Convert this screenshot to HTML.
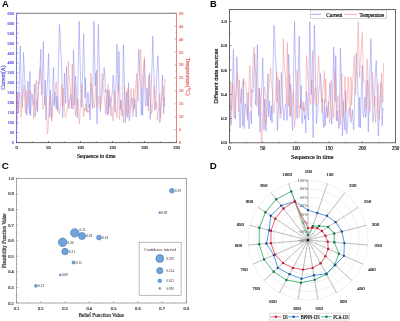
<!DOCTYPE html>
<html><head><meta charset="utf-8"><style>
html,body{margin:0;padding:0;background:#fff;}
svg{display:block;will-change:transform;filter:blur(0.4px);}
text{font-family:"Liberation Serif",serif;}
.lb{font-family:"Liberation Sans",sans-serif;font-weight:bold;}
.sans{font-family:"Liberation Sans",sans-serif;}
.tks{font-family:"Liberation Sans",sans-serif;}
.bt,.sans{stroke-width:0.2px;paint-order:stroke;}
.tk,.tks{stroke-width:0.2px;paint-order:stroke;}
</style></head><body>
<svg width="400" height="321" viewBox="0 0 400 321">
<rect width="400" height="321" fill="#fff"/>
<text x="1.9" y="7" font-size="9.3" fill="#000" class="lb">A</text>
<polyline points="16.5,91.84 17.14,92.29 17.78,112.4 18.42,112.78 19.06,89.55 19.7,63.3 20.34,45.96 20.98,78.02 21.62,100.45 22.26,107.64 22.9,79.47 23.54,52.41 24.18,67.01 24.82,79.19 25.46,92.5 26.1,104.09 26.74,115.48 27.38,98.27 28.02,81.07 28.66,98.63 29.3,113.57 29.94,71.51 30.58,116.04 31.22,101.25 31.86,94.16 32.5,97.68 33.14,101.95 33.78,105.47 34.42,84.15 35.06,116.35 35.7,114.84 36.34,101.17 36.98,100.4 37.62,112.16 38.26,81.87 38.9,83.68 39.54,79.09 40.18,65.28 40.82,49.19 41.46,94.83 42.1,90.84 42.74,65.94 43.38,41.67 44.02,88.88 44.66,105.06 45.3,80.04 45.94,119.52 46.58,97.69 47.22,85.23 47.86,73.49 48.5,53.48 49.14,79.07 49.78,117.34 50.42,89.92 51.06,109.18 51.7,118.57 52.34,104.21 52.98,80.36 53.62,67.45 54.26,105.78 54.9,91.83 55.54,98.84 56.18,108.84 56.82,95.78 57.46,110.88 58.1,81.22 58.74,53.56 59.38,24.48 60.02,31.56 60.66,50.86 61.3,58.3 61.94,74.25 62.58,117.87 63.22,107.08 63.86,92.15 64.5,73.3 65.14,94.03 65.78,103.32 66.42,66.37 67.06,80.85 67.7,92.24 68.34,101.81 68.98,108.78 69.62,99.26 70.26,95.9 70.9,94.18 71.54,108.17 72.18,108.77 72.82,82.32 73.46,50.26 74.1,68.1 74.74,105.28 75.38,76.24 76.02,85.03 76.66,107 77.3,117.68 77.94,84.33 78.58,47.97 79.22,21.26 79.86,50.55 80.5,75.83 81.14,101.67 81.78,107.36 82.42,81.68 83.06,51.71 83.7,34.15 84.34,68.73 84.98,97.85 85.62,77.8 86.26,111.56 86.9,111.04 87.54,93.03 88.18,92.51 88.82,107.73 89.46,104.19 90.1,119.98 90.74,82.85 91.38,87.6 92.02,103.17 92.66,108.71 93.3,62.67 93.94,21.26 94.58,50.91 95.22,85.85 95.86,72.83 96.5,95.88 97.14,124.12 97.78,51.67 98.42,24.48 99.06,55.73 99.7,79.25 100.34,111.56 100.98,102.87 101.62,100.96 102.26,88.49 102.9,79.51 103.54,79.29 104.18,67.45 104.82,74.65 105.46,92.2 106.1,89.58 106.74,111 107.38,115.15 108.02,90.48 108.66,114.04 109.3,104.34 109.94,96.3 110.58,106.56 111.22,101.56 111.86,95.79 112.5,89.59 113.14,75.28 113.78,83.77 114.42,99.26 115.06,112.22 115.7,91.54 116.34,70.14 116.98,43.81 117.62,71.82 118.26,92.15 118.9,51.33 119.54,78.46 120.18,109.36 120.82,100.05 121.46,109.87 122.1,116.12 122.74,90.76 123.38,44.89 124.02,66.14 124.66,91.56 125.3,122.71 125.94,110.63 126.58,91.64 127.22,110.44 127.86,117.59 128.5,82.92 129.14,120.68 129.78,119.65 130.42,110.51 131.06,99.89 131.7,97.83 132.34,98.33 132.98,104.92 133.62,110.53 134.26,106.42 134.9,99.25 135.54,107.79 136.18,117.16 136.82,101.36 137.46,76.6 138.1,70.68 138.74,49.19 139.38,61.03 140.02,76.1 140.66,91.63 141.3,114.79 141.94,88.27 142.58,115.47 143.22,94.94 143.86,71.27 144.5,59.93 145.14,100.7 145.78,105.95 146.42,99.97 147.06,88.1 147.7,106.27 148.34,102.63 148.98,79.95 149.62,72.89 150.26,119.31 150.9,98.2 151.54,78.4 152.18,60.02 152.82,36.3 153.46,63.25 154.1,76.28 154.74,110.19 155.38,105.18 156.02,98.5 156.66,77.31 157.3,64.02 157.94,55.63 158.58,73.56 159.22,98.43 159.86,122.6 160.5,112.8 161.14,102.79 161.78,93.22 162.42,74.97 163.06,91.5 163.7,113.58 164.34,97.91 164.98,99.47" fill="none" stroke="#8080f0" stroke-width="0.48" stroke-linejoin="round"/>
<polyline points="16.5,125.94 17.14,125.94 17.78,92.17 18.42,112.35 19.06,99.6 19.7,92.99 20.34,105.44 20.98,117.35 21.62,110.37 22.26,106.33 22.9,97.96 23.54,91.18 24.18,85.35 24.82,103.34 25.46,113.27 26.1,90.52 26.74,100.95 27.38,106.82 28.02,102.65 28.66,98.01 29.3,91.89 29.94,90.47 30.58,92.44 31.22,92.1 31.86,94.59 32.5,96.04 33.14,105.63 33.78,119.16 34.42,109.09 35.06,99.92 35.7,85.44 36.34,80.23 36.98,109.64 37.62,96.67 38.26,95.21 38.9,83.7 39.54,71.33 40.18,67.42 40.82,77.44 41.46,83.9 42.1,86.33 42.74,109.35 43.38,107.93 44.02,105.56 44.66,97.11 45.3,98.15 45.94,100.94 46.58,108.95 47.22,133.99 47.86,132.28 48.5,118.85 49.14,104.71 49.78,97.28 50.42,95.51 51.06,103.69 51.7,121.15 52.34,115.25 52.98,104.07 53.62,99.65 54.26,97.03 54.9,92.7 55.54,86.8 56.18,81.93 56.82,91.5 57.46,96.69 58.1,99.01 58.74,112.66 59.38,114.19 60.02,107.37 60.66,104.27 61.3,93.64 61.94,84.49 62.58,106.36 63.22,88.3 63.86,92.85 64.5,104.4 65.14,116.87 65.78,117.67 66.42,112.77 67.06,111.82 67.7,103.85 68.34,61.45 68.98,75.55 69.62,82.06 70.26,86.54 70.9,96.17 71.54,108.12 72.18,64.01 72.82,82.39 73.46,109.34 74.1,95.89 74.74,86.53 75.38,116.11 76.02,109.82 76.66,108.16 77.3,107.41 77.94,98.68 78.58,109.91 79.22,123.9 79.86,118.14 80.5,100.2 81.14,98.26 81.78,83.8 82.42,95.28 83.06,107.45 83.7,116.81 84.34,108.28 84.98,110.87 85.62,104.33 86.26,105.39 86.9,109.69 87.54,112.35 88.18,109.69 88.82,112.62 89.46,109.4 90.1,104.67 90.74,73.4 91.38,78.39 92.02,88.7 92.66,93.47 93.3,101.54 93.94,104.59 94.58,107.79 95.22,97.74 95.86,87.55 96.5,69.99 97.14,106.73 97.78,107.78 98.42,102.74 99.06,95.9 99.7,98.23 100.34,109.16 100.98,97.94 101.62,85.37 102.26,73.4 102.9,82.62 103.54,89.59 104.18,95.87 104.82,100.98 105.46,114.05 106.1,103.26 106.74,97.16 107.38,90.49 108.02,84.49 108.66,106.97 109.3,89.63 109.94,102.26 110.58,111.71 111.22,116.15 111.86,106.01 112.5,116.87 113.14,120.82 113.78,102.28 114.42,90.72 115.06,95.68 115.7,106.36 116.34,113.47 116.98,117.53 117.62,101.14 118.26,83.91 118.9,102.09 119.54,119.15 120.18,108.52 120.82,102.51 121.46,101.45 122.1,111.02 122.74,110.58 123.38,122.3 124.02,105.59 124.66,85.94 125.3,102.63 125.94,116.9 126.58,107.32 127.22,100.86 127.86,88.26 128.5,113.34 129.14,109.59 129.78,105.2 130.42,95.86 131.06,88.66 131.7,102.97 132.34,109.51 132.98,116.93 133.62,88.5 134.26,108.3 134.9,97.01 135.54,89.24 136.18,79.91 136.82,73.4 137.46,88.49 138.1,101.32 138.74,83.4 139.38,79 140.02,60.16 140.66,49.5 141.3,73.88 141.94,88.91 142.58,76.96 143.22,71.74 143.86,62.72 144.5,57.18 145.14,78.21 145.78,91.85 146.42,91.4 147.06,91.03 147.7,97.88 148.34,110.97 148.98,75.96 149.62,81.34 150.26,92.88 150.9,102.18 151.54,113.56 152.18,111.26 152.82,103.12 153.46,93.69 154.1,85.17 154.74,89.74 155.38,100.59 156.02,109.2 156.66,101.82 157.3,120.56 157.94,113.82 158.58,111.95 159.22,96.97 159.86,93.17 160.5,118.08 161.14,109.63 161.78,100.27 162.42,98.25 163.06,85.71 163.7,98.65 164.34,106.51 164.98,78.52" fill="none" stroke="#ee8c8c" stroke-width="0.48" stroke-linejoin="round"/>
<line x1="16.5" y1="13.3" x2="176.5" y2="13.3" stroke="#555" stroke-width="0.8"/>
<line x1="16.5" y1="142.6" x2="176.5" y2="142.6" stroke="#333" stroke-width="0.8"/>
<line x1="16.5" y1="13.3" x2="16.5" y2="142.6" stroke="#5858d8" stroke-width="0.8"/>
<line x1="176.5" y1="13.3" x2="176.5" y2="142.6" stroke="#e46464" stroke-width="0.8"/>
<line x1="16.5" y1="142.6" x2="18.5" y2="142.6" stroke="#5858d8" stroke-width="0.6"/>
<text x="13.9" y="144.05" font-size="4.2" fill="#6262dc" stroke="#6262dc" text-anchor="end" class="tk">0</text>
<line x1="16.5" y1="137.63" x2="17.5" y2="137.63" stroke="#5858d8" stroke-width="0.6"/>
<line x1="16.5" y1="132.65" x2="18.5" y2="132.65" stroke="#5858d8" stroke-width="0.6"/>
<text x="13.9" y="134.1" font-size="4.2" fill="#6262dc" stroke="#6262dc" text-anchor="end" class="tk">50</text>
<line x1="16.5" y1="127.68" x2="17.5" y2="127.68" stroke="#5858d8" stroke-width="0.6"/>
<line x1="16.5" y1="122.71" x2="18.5" y2="122.71" stroke="#5858d8" stroke-width="0.6"/>
<text x="13.9" y="124.16" font-size="4.2" fill="#6262dc" stroke="#6262dc" text-anchor="end" class="tk">100</text>
<line x1="16.5" y1="117.73" x2="17.5" y2="117.73" stroke="#5858d8" stroke-width="0.6"/>
<line x1="16.5" y1="112.76" x2="18.5" y2="112.76" stroke="#5858d8" stroke-width="0.6"/>
<text x="13.9" y="114.21" font-size="4.2" fill="#6262dc" stroke="#6262dc" text-anchor="end" class="tk">150</text>
<line x1="16.5" y1="107.79" x2="17.5" y2="107.79" stroke="#5858d8" stroke-width="0.6"/>
<line x1="16.5" y1="102.82" x2="18.5" y2="102.82" stroke="#5858d8" stroke-width="0.6"/>
<text x="13.9" y="104.27" font-size="4.2" fill="#6262dc" stroke="#6262dc" text-anchor="end" class="tk">200</text>
<line x1="16.5" y1="97.84" x2="17.5" y2="97.84" stroke="#5858d8" stroke-width="0.6"/>
<line x1="16.5" y1="92.87" x2="18.5" y2="92.87" stroke="#5858d8" stroke-width="0.6"/>
<text x="13.9" y="94.32" font-size="4.2" fill="#6262dc" stroke="#6262dc" text-anchor="end" class="tk">250</text>
<line x1="16.5" y1="87.9" x2="17.5" y2="87.9" stroke="#5858d8" stroke-width="0.6"/>
<line x1="16.5" y1="82.92" x2="18.5" y2="82.92" stroke="#5858d8" stroke-width="0.6"/>
<text x="13.9" y="84.37" font-size="4.2" fill="#6262dc" stroke="#6262dc" text-anchor="end" class="tk">300</text>
<line x1="16.5" y1="77.95" x2="17.5" y2="77.95" stroke="#5858d8" stroke-width="0.6"/>
<line x1="16.5" y1="72.98" x2="18.5" y2="72.98" stroke="#5858d8" stroke-width="0.6"/>
<text x="13.9" y="74.43" font-size="4.2" fill="#6262dc" stroke="#6262dc" text-anchor="end" class="tk">350</text>
<line x1="16.5" y1="68" x2="17.5" y2="68" stroke="#5858d8" stroke-width="0.6"/>
<line x1="16.5" y1="63.03" x2="18.5" y2="63.03" stroke="#5858d8" stroke-width="0.6"/>
<text x="13.9" y="64.48" font-size="4.2" fill="#6262dc" stroke="#6262dc" text-anchor="end" class="tk">400</text>
<line x1="16.5" y1="58.06" x2="17.5" y2="58.06" stroke="#5858d8" stroke-width="0.6"/>
<line x1="16.5" y1="53.08" x2="18.5" y2="53.08" stroke="#5858d8" stroke-width="0.6"/>
<text x="13.9" y="54.53" font-size="4.2" fill="#6262dc" stroke="#6262dc" text-anchor="end" class="tk">450</text>
<line x1="16.5" y1="48.11" x2="17.5" y2="48.11" stroke="#5858d8" stroke-width="0.6"/>
<line x1="16.5" y1="43.14" x2="18.5" y2="43.14" stroke="#5858d8" stroke-width="0.6"/>
<text x="13.9" y="44.59" font-size="4.2" fill="#6262dc" stroke="#6262dc" text-anchor="end" class="tk">500</text>
<line x1="16.5" y1="38.17" x2="17.5" y2="38.17" stroke="#5858d8" stroke-width="0.6"/>
<line x1="16.5" y1="33.19" x2="18.5" y2="33.19" stroke="#5858d8" stroke-width="0.6"/>
<text x="13.9" y="34.64" font-size="4.2" fill="#6262dc" stroke="#6262dc" text-anchor="end" class="tk">550</text>
<line x1="16.5" y1="28.22" x2="17.5" y2="28.22" stroke="#5858d8" stroke-width="0.6"/>
<line x1="16.5" y1="23.25" x2="18.5" y2="23.25" stroke="#5858d8" stroke-width="0.6"/>
<text x="13.9" y="24.7" font-size="4.2" fill="#6262dc" stroke="#6262dc" text-anchor="end" class="tk">600</text>
<line x1="16.5" y1="18.27" x2="17.5" y2="18.27" stroke="#5858d8" stroke-width="0.6"/>
<line x1="16.5" y1="13.3" x2="18.5" y2="13.3" stroke="#5858d8" stroke-width="0.6"/>
<text x="13.9" y="14.75" font-size="4.2" fill="#6262dc" stroke="#6262dc" text-anchor="end" class="tk">650</text>
<line x1="176.5" y1="142.6" x2="174.5" y2="142.6" stroke="#e46464" stroke-width="0.6"/>
<line x1="176.5" y1="136.13" x2="175.5" y2="136.13" stroke="#e46464" stroke-width="0.6"/>
<text x="179.1" y="144.05" font-size="4.2" fill="#e87474" stroke="#e87474" class="tk">0</text>
<line x1="176.5" y1="129.67" x2="174.5" y2="129.67" stroke="#e46464" stroke-width="0.6"/>
<line x1="176.5" y1="123.2" x2="175.5" y2="123.2" stroke="#e46464" stroke-width="0.6"/>
<text x="179.1" y="131.12" font-size="4.2" fill="#e87474" stroke="#e87474" class="tk">5</text>
<line x1="176.5" y1="116.74" x2="174.5" y2="116.74" stroke="#e46464" stroke-width="0.6"/>
<line x1="176.5" y1="110.28" x2="175.5" y2="110.28" stroke="#e46464" stroke-width="0.6"/>
<text x="179.1" y="118.19" font-size="4.2" fill="#e87474" stroke="#e87474" class="tk">10</text>
<line x1="176.5" y1="103.81" x2="174.5" y2="103.81" stroke="#e46464" stroke-width="0.6"/>
<line x1="176.5" y1="97.34" x2="175.5" y2="97.34" stroke="#e46464" stroke-width="0.6"/>
<text x="179.1" y="105.26" font-size="4.2" fill="#e87474" stroke="#e87474" class="tk">15</text>
<line x1="176.5" y1="90.88" x2="174.5" y2="90.88" stroke="#e46464" stroke-width="0.6"/>
<line x1="176.5" y1="84.42" x2="175.5" y2="84.42" stroke="#e46464" stroke-width="0.6"/>
<text x="179.1" y="92.33" font-size="4.2" fill="#e87474" stroke="#e87474" class="tk">20</text>
<line x1="176.5" y1="77.95" x2="174.5" y2="77.95" stroke="#e46464" stroke-width="0.6"/>
<line x1="176.5" y1="71.48" x2="175.5" y2="71.48" stroke="#e46464" stroke-width="0.6"/>
<text x="179.1" y="79.4" font-size="4.2" fill="#e87474" stroke="#e87474" class="tk">25</text>
<line x1="176.5" y1="65.02" x2="174.5" y2="65.02" stroke="#e46464" stroke-width="0.6"/>
<line x1="176.5" y1="58.56" x2="175.5" y2="58.56" stroke="#e46464" stroke-width="0.6"/>
<text x="179.1" y="66.47" font-size="4.2" fill="#e87474" stroke="#e87474" class="tk">30</text>
<line x1="176.5" y1="52.09" x2="174.5" y2="52.09" stroke="#e46464" stroke-width="0.6"/>
<line x1="176.5" y1="45.63" x2="175.5" y2="45.63" stroke="#e46464" stroke-width="0.6"/>
<text x="179.1" y="53.54" font-size="4.2" fill="#e87474" stroke="#e87474" class="tk">35</text>
<line x1="176.5" y1="39.16" x2="174.5" y2="39.16" stroke="#e46464" stroke-width="0.6"/>
<line x1="176.5" y1="32.7" x2="175.5" y2="32.7" stroke="#e46464" stroke-width="0.6"/>
<text x="179.1" y="40.61" font-size="4.2" fill="#e87474" stroke="#e87474" class="tk">40</text>
<line x1="176.5" y1="26.23" x2="174.5" y2="26.23" stroke="#e46464" stroke-width="0.6"/>
<line x1="176.5" y1="19.77" x2="175.5" y2="19.77" stroke="#e46464" stroke-width="0.6"/>
<text x="179.1" y="27.68" font-size="4.2" fill="#e87474" stroke="#e87474" class="tk">45</text>
<line x1="176.5" y1="13.3" x2="174.5" y2="13.3" stroke="#e46464" stroke-width="0.6"/>
<text x="179.1" y="14.75" font-size="4.2" fill="#e87474" stroke="#e87474" class="tk">50</text>
<line x1="16.5" y1="142.6" x2="16.5" y2="141" stroke="#333" stroke-width="0.6"/>
<text x="16.5" y="148.7" font-size="4.4" fill="#333" stroke="#333" text-anchor="middle" class="tk">0</text>
<line x1="32.5" y1="142.6" x2="32.5" y2="141.6" stroke="#333" stroke-width="0.6"/>
<line x1="48.5" y1="142.6" x2="48.5" y2="141" stroke="#333" stroke-width="0.6"/>
<text x="48.5" y="148.7" font-size="4.4" fill="#333" stroke="#333" text-anchor="middle" class="tk">50</text>
<line x1="64.5" y1="142.6" x2="64.5" y2="141.6" stroke="#333" stroke-width="0.6"/>
<line x1="80.5" y1="142.6" x2="80.5" y2="141" stroke="#333" stroke-width="0.6"/>
<text x="80.5" y="148.7" font-size="4.4" fill="#333" stroke="#333" text-anchor="middle" class="tk">100</text>
<line x1="96.5" y1="142.6" x2="96.5" y2="141.6" stroke="#333" stroke-width="0.6"/>
<line x1="112.5" y1="142.6" x2="112.5" y2="141" stroke="#333" stroke-width="0.6"/>
<text x="112.5" y="148.7" font-size="4.4" fill="#333" stroke="#333" text-anchor="middle" class="tk">150</text>
<line x1="128.5" y1="142.6" x2="128.5" y2="141.6" stroke="#333" stroke-width="0.6"/>
<line x1="144.5" y1="142.6" x2="144.5" y2="141" stroke="#333" stroke-width="0.6"/>
<text x="144.5" y="148.7" font-size="4.4" fill="#333" stroke="#333" text-anchor="middle" class="tk">200</text>
<line x1="160.5" y1="142.6" x2="160.5" y2="141.6" stroke="#333" stroke-width="0.6"/>
<line x1="176.5" y1="142.6" x2="176.5" y2="141" stroke="#333" stroke-width="0.6"/>
<text x="176.5" y="148.7" font-size="4.4" fill="#333" stroke="#333" text-anchor="middle" class="tk">250</text>
<text x="77" y="158.2" font-size="6.0" fill="#111" stroke="#111" textLength="38.5" lengthAdjust="spacingAndGlyphs" class="bt">Sequence in time</text>
<text transform="translate(4.9,77.6) rotate(-90)" font-size="5.5" fill="#5858d8" stroke="#5858d8" text-anchor="middle" textLength="24.4" lengthAdjust="spacingAndGlyphs" class="bt">Current(A)</text>
<text transform="translate(186.1,76.6) rotate(90)" font-size="5.6" fill="#e46464" stroke="#e46464" text-anchor="middle" textLength="37.8" lengthAdjust="spacingAndGlyphs" class="bt">Temperature(°C)</text>
<text x="210.1" y="7" font-size="9.3" fill="#000" class="lb">B</text>
<polyline points="229.5,101.25 230.16,101.75 230.83,124.44 231.49,124.87 232.16,98.66 232.82,69.05 233.48,49.49 234.15,85.66 234.81,110.96 235.48,119.07 236.14,87.29 236.8,56.76 237.47,73.24 238.13,86.97 238.8,101.99 239.46,115.07 240.12,127.91 240.79,108.5 241.45,89.1 242.12,108.9 242.78,125.75 243.44,78.31 244.11,128.55 244.77,111.86 245.44,103.87 246.1,107.83 246.76,112.65 247.43,116.62 248.09,92.57 248.76,128.9 249.42,127.19 250.08,111.78 250.75,110.9 251.41,124.16 252.08,89.99 252.74,92.03 253.4,86.87 254.07,71.28 254.73,53.13 255.4,104.62 256.06,100.11 256.72,72.03 257.39,44.64 258.05,97.9 258.72,116.16 259.38,87.93 260.04,132.48 260.71,107.85 261.37,93.79 262.04,80.55 262.7,57.97 263.36,86.84 264.03,130.01 264.69,99.08 265.36,120.8 266.02,131.4 266.68,115.19 267.35,88.3 268.01,73.73 268.68,116.97 269.34,101.23 270,109.15 270.67,120.42 271.33,105.69 272,122.73 272.66,89.27 273.32,58.06 273.99,25.25 274.65,33.24 275.32,55.02 275.98,63.4 276.64,81.4 277.31,130.61 277.97,118.44 278.64,101.59 279.3,80.33 279.96,103.71 280.63,114.19 281.29,72.51 281.96,88.85 282.62,101.7 283.28,112.49 283.95,120.35 284.61,109.62 285.28,105.83 285.94,103.89 286.6,119.66 287.27,120.34 287.93,90.51 288.6,54.34 289.26,74.46 289.92,116.41 290.59,83.64 291.25,93.56 291.92,118.35 292.58,130.4 293.24,92.78 293.91,51.75 294.57,21.62 295.24,54.66 295.9,83.18 296.56,112.34 297.23,118.76 297.89,89.78 298.56,55.97 299.22,36.16 299.88,75.17 300.55,108.02 301.21,85.4 301.88,123.49 302.54,122.9 303.2,102.59 303.87,102 304.53,119.17 305.2,115.17 305.86,132.99 306.52,91.1 307.19,96.46 307.85,114.02 308.52,120.28 309.18,68.34 309.84,21.62 310.51,55.07 311.17,94.49 311.84,79.8 312.5,105.8 313.16,137.67 313.83,55.93 314.49,25.25 315.16,60.51 315.82,87.05 316.48,123.49 317.15,113.69 317.81,111.53 318.48,97.46 319.14,87.33 319.8,87.08 320.47,73.73 321.13,81.85 321.8,101.65 322.46,98.69 323.12,122.86 323.79,127.54 324.45,99.71 325.12,126.29 325.78,115.35 326.44,106.28 327.11,117.85 327.77,112.21 328.44,105.7 329.1,98.71 329.76,82.57 330.43,92.14 331.09,109.62 331.76,124.24 332.42,100.9 333.08,76.76 333.75,47.07 334.41,78.66 335.08,101.59 335.74,55.55 336.4,86.15 337.07,121.02 337.73,110.51 338.4,121.59 339.06,128.63 339.72,100.03 340.39,48.28 341.05,72.26 341.72,100.92 342.38,136.07 343.04,122.44 343.71,101.02 344.37,122.23 345.04,130.29 345.7,91.18 346.36,133.78 347.03,132.61 347.69,122.31 348.36,110.32 349.02,108.01 349.68,108.56 350.35,116 351.01,122.33 351.68,117.69 352.34,109.6 353,119.24 353.67,129.81 354.33,111.99 355,84.05 355.66,77.37 356.32,53.13 356.99,66.48 357.65,83.49 358.32,101.01 358.98,127.13 359.64,97.22 360.31,127.9 360.97,104.75 361.64,78.04 362.3,65.24 362.96,111.24 363.63,117.16 364.29,110.42 364.96,97.02 365.62,117.53 366.28,113.41 366.95,87.83 367.61,79.86 368.28,132.23 368.94,108.42 369.6,86.08 370.27,65.34 370.93,38.58 371.6,68.99 372.26,83.69 372.92,121.95 373.59,116.3 374.25,108.76 374.92,84.85 375.58,69.86 376.24,60.4 376.91,80.62 377.57,108.67 378.24,135.95 378.9,124.89 379.56,113.6 380.23,102.81 380.89,82.21 381.56,100.86 382.22,125.77 382.88,108.1 383.55,109.85" fill="none" stroke="#8080f0" stroke-width="0.48" stroke-linejoin="round"/>
<polyline points="229.5,130.16 230.16,130.16 230.83,82.21 231.49,110.86 232.16,92.76 232.82,83.36 233.48,101.05 234.15,117.97 234.81,108.05 235.48,102.32 236.14,90.43 236.8,80.8 237.47,72.51 238.13,98.07 238.8,112.17 239.46,79.86 240.12,94.67 240.79,103 241.45,97.09 242.12,90.5 242.78,81.81 243.44,79.79 244.11,82.59 244.77,82.11 245.44,85.64 246.1,87.7 246.76,101.32 247.43,120.53 248.09,106.23 248.76,93.21 249.42,72.65 250.08,65.24 250.75,107.01 251.41,88.59 252.08,86.53 252.74,70.18 253.4,52.61 254.07,47.07 254.73,61.29 255.4,70.46 256.06,73.91 256.72,106.6 257.39,104.58 258.05,101.22 258.72,89.22 259.38,90.7 260.04,94.66 260.71,106.04 261.37,141.59 262.04,139.16 262.7,120.09 263.36,100.01 264.03,89.46 264.69,86.94 265.36,98.57 266.02,123.36 266.68,114.98 267.35,99.11 268.01,92.83 268.68,89.1 269.34,82.95 270,74.59 270.67,67.67 271.33,81.25 272,88.63 272.66,91.92 273.32,111.3 273.99,113.47 274.65,103.79 275.32,99.39 275.98,84.29 276.64,71.3 277.31,102.35 277.97,76.7 278.64,83.18 279.3,99.57 279.96,117.29 280.63,118.41 281.29,111.45 281.96,110.11 282.62,98.8 283.28,38.58 283.95,58.61 284.61,67.85 285.28,74.2 285.94,87.88 286.6,104.85 287.27,42.22 287.93,68.31 288.6,106.59 289.26,87.48 289.92,74.2 290.59,116.2 291.25,107.27 291.92,104.91 292.58,103.85 293.24,91.44 293.91,107.4 294.57,127.26 295.24,119.08 295.9,93.61 296.56,90.85 297.23,70.32 297.89,86.62 298.56,103.91 299.22,117.2 299.88,105.08 300.55,108.75 301.21,99.47 301.88,100.98 302.54,107.08 303.2,110.86 303.87,107.09 304.53,111.25 305.2,106.67 305.86,99.95 306.52,55.55 307.19,62.64 307.85,77.28 308.52,84.05 309.18,95.52 309.84,99.83 310.51,104.39 311.17,90.12 311.84,75.64 312.5,50.7 313.16,102.87 313.83,104.37 314.49,97.21 315.16,87.51 315.82,90.81 316.48,106.34 317.15,90.39 317.81,72.55 318.48,55.55 319.14,68.65 319.8,78.54 320.47,87.46 321.13,94.72 321.8,113.28 322.46,97.95 323.12,89.29 323.79,79.82 324.45,71.3 325.12,103.22 325.78,78.6 326.44,96.54 327.11,109.95 327.77,116.25 328.44,101.86 329.1,117.27 329.76,122.89 330.43,96.56 331.09,80.15 331.76,87.19 332.42,102.36 333.08,112.45 333.75,118.22 334.41,94.94 335.08,70.48 335.74,96.29 336.4,120.52 337.07,105.43 337.73,96.89 338.4,95.39 339.06,108.97 339.72,108.35 340.39,124.99 341.05,101.25 341.72,73.35 342.38,97.06 343.04,117.32 343.71,103.72 344.37,94.55 345.04,76.65 345.7,112.27 346.36,106.94 347.03,100.71 347.69,87.44 348.36,77.21 349.02,97.54 349.68,106.82 350.35,117.36 351.01,76.99 351.68,105.11 352.34,89.08 353,78.04 353.67,64.8 354.33,55.55 355,76.98 355.66,95.2 356.32,69.76 356.99,63.51 357.65,36.75 358.32,21.62 358.98,56.23 359.64,77.57 360.31,60.61 360.97,53.2 361.64,40.39 362.3,32.52 362.96,62.38 363.63,81.75 364.29,81.1 364.96,80.58 365.62,90.31 366.28,108.9 366.95,59.18 367.61,66.82 368.28,83.22 368.94,96.42 369.6,112.57 370.27,109.31 370.93,97.75 371.6,84.37 372.26,72.26 372.92,78.75 373.59,94.16 374.25,106.38 374.92,95.9 375.58,122.52 376.24,112.95 376.91,110.29 377.57,89.02 378.24,83.62 378.9,119 379.56,107 380.23,93.7 380.89,90.84 381.56,73.04 382.22,91.41 382.88,102.57 383.55,62.82" fill="none" stroke="#ee8c8c" stroke-width="0.48" stroke-linejoin="round"/>
<rect x="229.5" y="9.5" width="166.0" height="133.3" fill="none" stroke="#444" stroke-width="0.8"/>
<line x1="229.5" y1="142.8" x2="231.5" y2="142.8" stroke="#444" stroke-width="0.6"/>
<text x="227" y="144.3" font-size="4.4" fill="#222" stroke="#222" text-anchor="end" class="tks">0.0</text>
<line x1="229.5" y1="130.68" x2="230.5" y2="130.68" stroke="#444" stroke-width="0.6"/>
<line x1="229.5" y1="118.56" x2="231.5" y2="118.56" stroke="#444" stroke-width="0.6"/>
<text x="227" y="120.06" font-size="4.4" fill="#222" stroke="#222" text-anchor="end" class="tks">0.2</text>
<line x1="229.5" y1="106.45" x2="230.5" y2="106.45" stroke="#444" stroke-width="0.6"/>
<line x1="229.5" y1="94.33" x2="231.5" y2="94.33" stroke="#444" stroke-width="0.6"/>
<text x="227" y="95.83" font-size="4.4" fill="#222" stroke="#222" text-anchor="end" class="tks">0.4</text>
<line x1="229.5" y1="82.21" x2="230.5" y2="82.21" stroke="#444" stroke-width="0.6"/>
<line x1="229.5" y1="70.09" x2="231.5" y2="70.09" stroke="#444" stroke-width="0.6"/>
<text x="227" y="71.59" font-size="4.4" fill="#222" stroke="#222" text-anchor="end" class="tks">0.6</text>
<line x1="229.5" y1="57.97" x2="230.5" y2="57.97" stroke="#444" stroke-width="0.6"/>
<line x1="229.5" y1="45.85" x2="231.5" y2="45.85" stroke="#444" stroke-width="0.6"/>
<text x="227" y="47.35" font-size="4.4" fill="#222" stroke="#222" text-anchor="end" class="tks">0.8</text>
<line x1="229.5" y1="33.74" x2="230.5" y2="33.74" stroke="#444" stroke-width="0.6"/>
<line x1="229.5" y1="21.62" x2="231.5" y2="21.62" stroke="#444" stroke-width="0.6"/>
<text x="227" y="23.12" font-size="4.4" fill="#222" stroke="#222" text-anchor="end" class="tks">1.0</text>
<line x1="229.5" y1="9.5" x2="230.5" y2="9.5" stroke="#444" stroke-width="0.6"/>
<line x1="229.5" y1="142.8" x2="229.5" y2="141.2" stroke="#444" stroke-width="0.6"/>
<text x="229.5" y="149.7" font-size="5.1" fill="#222" stroke="#222" text-anchor="middle" class="tk">0</text>
<line x1="246.1" y1="142.8" x2="246.1" y2="141.8" stroke="#444" stroke-width="0.6"/>
<line x1="262.7" y1="142.8" x2="262.7" y2="141.2" stroke="#444" stroke-width="0.6"/>
<text x="262.7" y="149.7" font-size="5.1" fill="#222" stroke="#222" text-anchor="middle" class="tk">50</text>
<line x1="279.3" y1="142.8" x2="279.3" y2="141.8" stroke="#444" stroke-width="0.6"/>
<line x1="295.9" y1="142.8" x2="295.9" y2="141.2" stroke="#444" stroke-width="0.6"/>
<text x="295.9" y="149.7" font-size="5.1" fill="#222" stroke="#222" text-anchor="middle" class="tk">100</text>
<line x1="312.5" y1="142.8" x2="312.5" y2="141.8" stroke="#444" stroke-width="0.6"/>
<line x1="329.1" y1="142.8" x2="329.1" y2="141.2" stroke="#444" stroke-width="0.6"/>
<text x="329.1" y="149.7" font-size="5.1" fill="#222" stroke="#222" text-anchor="middle" class="tk">150</text>
<line x1="345.7" y1="142.8" x2="345.7" y2="141.8" stroke="#444" stroke-width="0.6"/>
<line x1="362.3" y1="142.8" x2="362.3" y2="141.2" stroke="#444" stroke-width="0.6"/>
<text x="362.3" y="149.7" font-size="5.1" fill="#222" stroke="#222" text-anchor="middle" class="tk">200</text>
<line x1="378.9" y1="142.8" x2="378.9" y2="141.8" stroke="#444" stroke-width="0.6"/>
<line x1="395.5" y1="142.8" x2="395.5" y2="141.2" stroke="#444" stroke-width="0.6"/>
<text x="395.5" y="149.7" font-size="5.1" fill="#222" stroke="#222" text-anchor="middle" class="tk">250</text>
<text x="291" y="159.3" font-size="6.7" fill="#111" stroke="#111" textLength="42.6" lengthAdjust="spacingAndGlyphs" class="bt">Sequence in time</text>
<text transform="translate(217.9,76.1) rotate(-90)" font-size="5.6" fill="#111" stroke="#111" text-anchor="middle" textLength="54.8" lengthAdjust="spacingAndGlyphs" class="sans">Different data sources</text>
<rect x="310.3" y="10.1" width="76.2" height="8.1" fill="#fff" stroke="#aaa" stroke-width="0.5"/>
<line x1="311.3" y1="14.3" x2="321" y2="14.3" stroke="#8080f0" stroke-width="0.7"/>
<text x="326.3" y="17.2" font-size="5.2" fill="#111" stroke="#111" textLength="16" lengthAdjust="spacingAndGlyphs" class="bt">Current</text>
<line x1="344.5" y1="14.3" x2="357" y2="14.3" stroke="#ee8c8c" stroke-width="0.7"/>
<text x="359.6" y="17.2" font-size="5.2" fill="#111" stroke="#111" textLength="24.6" lengthAdjust="spacingAndGlyphs" class="bt">Temperature</text>
<text x="1.8" y="168.8" font-size="9.8" fill="#000" class="lb">C</text>
<rect x="16.5" y="178.3" width="169.9" height="124.7" fill="none" stroke="#808080" stroke-width="0.7"/>
<line x1="16.5" y1="303" x2="18.5" y2="303" stroke="#808080" stroke-width="0.5"/>
<text x="13.8" y="304.5" font-size="4.5" fill="#444" stroke="#444" text-anchor="end" class="tk">0.2</text>
<line x1="16.5" y1="295.21" x2="17.5" y2="295.21" stroke="#808080" stroke-width="0.5"/>
<line x1="16.5" y1="287.41" x2="18.5" y2="287.41" stroke="#808080" stroke-width="0.5"/>
<text x="13.8" y="288.91" font-size="4.5" fill="#444" stroke="#444" text-anchor="end" class="tk">0.3</text>
<line x1="16.5" y1="279.62" x2="17.5" y2="279.62" stroke="#808080" stroke-width="0.5"/>
<line x1="16.5" y1="271.82" x2="18.5" y2="271.82" stroke="#808080" stroke-width="0.5"/>
<text x="13.8" y="273.32" font-size="4.5" fill="#444" stroke="#444" text-anchor="end" class="tk">0.4</text>
<line x1="16.5" y1="264.03" x2="17.5" y2="264.03" stroke="#808080" stroke-width="0.5"/>
<line x1="16.5" y1="256.24" x2="18.5" y2="256.24" stroke="#808080" stroke-width="0.5"/>
<text x="13.8" y="257.74" font-size="4.5" fill="#444" stroke="#444" text-anchor="end" class="tk">0.5</text>
<line x1="16.5" y1="248.44" x2="17.5" y2="248.44" stroke="#808080" stroke-width="0.5"/>
<line x1="16.5" y1="240.65" x2="18.5" y2="240.65" stroke="#808080" stroke-width="0.5"/>
<text x="13.8" y="242.15" font-size="4.5" fill="#444" stroke="#444" text-anchor="end" class="tk">0.6</text>
<line x1="16.5" y1="232.86" x2="17.5" y2="232.86" stroke="#808080" stroke-width="0.5"/>
<line x1="16.5" y1="225.06" x2="18.5" y2="225.06" stroke="#808080" stroke-width="0.5"/>
<text x="13.8" y="226.56" font-size="4.5" fill="#444" stroke="#444" text-anchor="end" class="tk">0.7</text>
<line x1="16.5" y1="217.27" x2="17.5" y2="217.27" stroke="#808080" stroke-width="0.5"/>
<line x1="16.5" y1="209.47" x2="18.5" y2="209.47" stroke="#808080" stroke-width="0.5"/>
<text x="13.8" y="210.97" font-size="4.5" fill="#444" stroke="#444" text-anchor="end" class="tk">0.8</text>
<line x1="16.5" y1="201.68" x2="17.5" y2="201.68" stroke="#808080" stroke-width="0.5"/>
<line x1="16.5" y1="193.89" x2="18.5" y2="193.89" stroke="#808080" stroke-width="0.5"/>
<text x="13.8" y="195.39" font-size="4.5" fill="#444" stroke="#444" text-anchor="end" class="tk">0.9</text>
<line x1="16.5" y1="186.09" x2="17.5" y2="186.09" stroke="#808080" stroke-width="0.5"/>
<line x1="16.5" y1="178.3" x2="18.5" y2="178.3" stroke="#808080" stroke-width="0.5"/>
<text x="13.8" y="179.8" font-size="4.5" fill="#444" stroke="#444" text-anchor="end" class="tk">1.0</text>
<line x1="16.5" y1="303.0" x2="16.5" y2="301" stroke="#808080" stroke-width="0.5"/>
<text x="16.5" y="309.6" font-size="4.5" fill="#444" stroke="#444" text-anchor="middle" class="tk">0.1</text>
<line x1="28.64" y1="303.0" x2="28.64" y2="302" stroke="#808080" stroke-width="0.5"/>
<line x1="40.77" y1="303.0" x2="40.77" y2="301" stroke="#808080" stroke-width="0.5"/>
<text x="40.77" y="309.6" font-size="4.5" fill="#444" stroke="#444" text-anchor="middle" class="tk">0.2</text>
<line x1="52.91" y1="303.0" x2="52.91" y2="302" stroke="#808080" stroke-width="0.5"/>
<line x1="65.04" y1="303.0" x2="65.04" y2="301" stroke="#808080" stroke-width="0.5"/>
<text x="65.04" y="309.6" font-size="4.5" fill="#444" stroke="#444" text-anchor="middle" class="tk">0.3</text>
<line x1="77.18" y1="303.0" x2="77.18" y2="302" stroke="#808080" stroke-width="0.5"/>
<line x1="89.31" y1="303.0" x2="89.31" y2="301" stroke="#808080" stroke-width="0.5"/>
<text x="89.31" y="309.6" font-size="4.5" fill="#444" stroke="#444" text-anchor="middle" class="tk">0.4</text>
<line x1="101.45" y1="303.0" x2="101.45" y2="302" stroke="#808080" stroke-width="0.5"/>
<line x1="113.59" y1="303.0" x2="113.59" y2="301" stroke="#808080" stroke-width="0.5"/>
<text x="113.59" y="309.6" font-size="4.5" fill="#444" stroke="#444" text-anchor="middle" class="tk">0.5</text>
<line x1="125.72" y1="303.0" x2="125.72" y2="302" stroke="#808080" stroke-width="0.5"/>
<line x1="137.86" y1="303.0" x2="137.86" y2="301" stroke="#808080" stroke-width="0.5"/>
<text x="137.86" y="309.6" font-size="4.5" fill="#444" stroke="#444" text-anchor="middle" class="tk">0.6</text>
<line x1="149.99" y1="303.0" x2="149.99" y2="302" stroke="#808080" stroke-width="0.5"/>
<line x1="162.13" y1="303.0" x2="162.13" y2="301" stroke="#808080" stroke-width="0.5"/>
<text x="162.13" y="309.6" font-size="4.5" fill="#444" stroke="#444" text-anchor="middle" class="tk">0.7</text>
<line x1="174.26" y1="303.0" x2="174.26" y2="302" stroke="#808080" stroke-width="0.5"/>
<line x1="186.4" y1="303.0" x2="186.4" y2="301" stroke="#808080" stroke-width="0.5"/>
<text x="186.4" y="309.6" font-size="4.5" fill="#444" stroke="#444" text-anchor="middle" class="tk">0.8</text>
<text x="78.4" y="317" font-size="5.2" fill="#333" stroke="#333" textLength="45.4" lengthAdjust="spacingAndGlyphs" class="bt">Belief Function Value</text>
<text transform="translate(5.9,240.7) rotate(-90)" font-size="5.1" fill="#333" stroke="#333" text-anchor="middle" textLength="54.6" lengthAdjust="spacingAndGlyphs" class="bt">Plausibility Function Value</text>
<circle cx="35.92" cy="285.85" r="1.4" fill="#70a5da" stroke="#4a7cb8" stroke-width="0.7"/>
<text x="37.92" y="287.15" font-size="3.5" fill="#222">0.13</text>
<circle cx="60.19" cy="274.94" r="0.9" fill="#70a5da" stroke="#4a7cb8" stroke-width="0.7"/>
<text x="61.69" y="276.24" font-size="3.5" fill="#222">0.09</text>
<circle cx="73.54" cy="262.47" r="1.5" fill="#70a5da" stroke="#4a7cb8" stroke-width="0.7"/>
<text x="75.64" y="263.77" font-size="3.5" fill="#222">0.12</text>
<circle cx="65.04" cy="251.56" r="3.2" fill="#70a5da" stroke="#4a7cb8" stroke-width="0.7"/>
<text x="68.84" y="252.86" font-size="3.5" fill="#222">0.21</text>
<circle cx="62.62" cy="242.21" r="4.2" fill="#70a5da" stroke="#4a7cb8" stroke-width="0.7"/>
<text x="67.42" y="243.51" font-size="3.5" fill="#222">0.30</text>
<circle cx="74.75" cy="232.86" r="4.2" fill="#70a5da" stroke="#4a7cb8" stroke-width="0.7"/>
<text x="79.6" y="230.8" font-size="3.5" fill="#222">0.31</text>
<circle cx="82.03" cy="235.97" r="3.5" fill="#70a5da" stroke="#4a7cb8" stroke-width="0.7"/>
<text x="86.13" y="237.27" font-size="3.5" fill="#222">0.28</text>
<circle cx="99.02" cy="237.53" r="2.4" fill="#70a5da" stroke="#4a7cb8" stroke-width="0.7"/>
<text x="102.02" y="238.83" font-size="3.5" fill="#222">0.18</text>
<circle cx="159.7" cy="212.59" r="0.9" fill="#70a5da" stroke="#4a7cb8" stroke-width="0.7"/>
<text x="161.2" y="213.89" font-size="3.5" fill="#222">0.09</text>
<circle cx="171.84" cy="190.77" r="2.3" fill="#70a5da" stroke="#4a7cb8" stroke-width="0.7"/>
<text x="174.74" y="192.07" font-size="3.5" fill="#222">0.19</text>
<rect x="139.1" y="242.2" width="42" height="53" fill="#fff" stroke="#777" stroke-width="0.5"/>
<text x="160.1" y="250.6" font-size="4.1" fill="#222" text-anchor="middle" textLength="32" lengthAdjust="spacingAndGlyphs">Confidence interval</text>
<circle cx="159.8" cy="258.5" r="3.9" fill="#70a5da" stroke="#4a7cb8" stroke-width="0.7"/>
<text x="166.3" y="259.7" font-size="3.4" fill="#333">0.399</text>
<circle cx="159.8" cy="270.7" r="3.1" fill="#70a5da" stroke="#4a7cb8" stroke-width="0.7"/>
<text x="166.3" y="271.9" font-size="3.4" fill="#333">0.234</text>
<circle cx="159.8" cy="280.8" r="1.8" fill="#70a5da" stroke="#4a7cb8" stroke-width="0.7"/>
<text x="166.3" y="282" font-size="3.4" fill="#333">0.163</text>
<circle cx="159.8" cy="288.4" r="0.9" fill="#70a5da" stroke="#4a7cb8" stroke-width="0.7"/>
<text x="166.3" y="289.6" font-size="3.4" fill="#333">0.090</text>
<text x="209.8" y="169.1" font-size="9.7" fill="#000" class="lb">D</text>
<circle cx="308.0" cy="240.1" r="8.57" fill="none" stroke="#e0e0e0" stroke-width="0.5"/>
<circle cx="308.0" cy="240.1" r="17.14" fill="none" stroke="#e0e0e0" stroke-width="0.5"/>
<circle cx="308.0" cy="240.1" r="25.71" fill="none" stroke="#e0e0e0" stroke-width="0.5"/>
<circle cx="308.0" cy="240.1" r="34.29" fill="none" stroke="#e0e0e0" stroke-width="0.5"/>
<circle cx="308.0" cy="240.1" r="42.86" fill="none" stroke="#e0e0e0" stroke-width="0.5"/>
<circle cx="308.0" cy="240.1" r="51.43" fill="none" stroke="#e0e0e0" stroke-width="0.5"/>
<circle cx="308.0" cy="240.1" r="60" fill="none" stroke="#e0e0e0" stroke-width="0.5"/>
<line x1="308.0" y1="240.1" x2="308" y2="180.1" stroke="#7a7a7a" stroke-width="0.5"/>
<line x1="308.0" y1="240.1" x2="327.48" y2="183.35" stroke="#7a7a7a" stroke-width="0.5"/>
<line x1="308.0" y1="240.1" x2="344.85" y2="192.75" stroke="#7a7a7a" stroke-width="0.5"/>
<line x1="308.0" y1="240.1" x2="358.23" y2="207.28" stroke="#7a7a7a" stroke-width="0.5"/>
<line x1="308.0" y1="240.1" x2="366.16" y2="225.37" stroke="#7a7a7a" stroke-width="0.5"/>
<line x1="308.0" y1="240.1" x2="367.8" y2="245.05" stroke="#7a7a7a" stroke-width="0.5"/>
<line x1="308.0" y1="240.1" x2="362.95" y2="264.2" stroke="#7a7a7a" stroke-width="0.5"/>
<line x1="308.0" y1="240.1" x2="352.14" y2="280.74" stroke="#7a7a7a" stroke-width="0.5"/>
<line x1="308.0" y1="240.1" x2="336.56" y2="292.87" stroke="#7a7a7a" stroke-width="0.5"/>
<line x1="308.0" y1="240.1" x2="317.88" y2="299.28" stroke="#7a7a7a" stroke-width="0.5"/>
<line x1="308.0" y1="240.1" x2="298.12" y2="299.28" stroke="#7a7a7a" stroke-width="0.5"/>
<line x1="308.0" y1="240.1" x2="279.44" y2="292.87" stroke="#7a7a7a" stroke-width="0.5"/>
<line x1="308.0" y1="240.1" x2="263.86" y2="280.74" stroke="#7a7a7a" stroke-width="0.5"/>
<line x1="308.0" y1="240.1" x2="253.05" y2="264.2" stroke="#7a7a7a" stroke-width="0.5"/>
<line x1="308.0" y1="240.1" x2="248.2" y2="245.05" stroke="#7a7a7a" stroke-width="0.5"/>
<line x1="308.0" y1="240.1" x2="249.84" y2="225.37" stroke="#7a7a7a" stroke-width="0.5"/>
<line x1="308.0" y1="240.1" x2="257.77" y2="207.28" stroke="#7a7a7a" stroke-width="0.5"/>
<line x1="308.0" y1="240.1" x2="271.15" y2="192.75" stroke="#7a7a7a" stroke-width="0.5"/>
<line x1="308.0" y1="240.1" x2="288.52" y2="183.35" stroke="#7a7a7a" stroke-width="0.5"/>
<text x="308.4" y="173.15" font-size="4.9" fill="#2a2a2a" text-anchor="middle" stroke="#2a2a2a" stroke-width="0.18">100</text>
<text x="329.9" y="176.25" font-size="4.9" fill="#2a2a2a" text-anchor="middle" stroke="#2a2a2a" stroke-width="0.18">150</text>
<text x="352.7" y="186.75" font-size="4.9" fill="#2a2a2a" text-anchor="middle" stroke="#2a2a2a" stroke-width="0.18">200</text>
<text x="367.5" y="202.85" font-size="4.9" fill="#2a2a2a" text-anchor="middle" stroke="#2a2a2a" stroke-width="0.18">250</text>
<text x="375.5" y="226.15" font-size="4.9" fill="#2a2a2a" text-anchor="middle" stroke="#2a2a2a" stroke-width="0.18">300</text>
<text x="378.2" y="247.15" font-size="4.9" fill="#2a2a2a" text-anchor="middle" stroke="#2a2a2a" stroke-width="0.18">350</text>
<text x="372" y="271.45" font-size="4.9" fill="#2a2a2a" text-anchor="middle" stroke="#2a2a2a" stroke-width="0.18">400</text>
<text x="361" y="289.65" font-size="4.9" fill="#2a2a2a" text-anchor="middle" stroke="#2a2a2a" stroke-width="0.18">450</text>
<text x="343.3" y="302.95" font-size="4.9" fill="#2a2a2a" text-anchor="middle" stroke="#2a2a2a" stroke-width="0.18">500</text>
<text x="319.25" y="310.35" font-size="4.9" fill="#2a2a2a" text-anchor="middle" stroke="#2a2a2a" stroke-width="0.18">550</text>
<text x="297.25" y="310.35" font-size="4.9" fill="#2a2a2a" text-anchor="middle" stroke="#2a2a2a" stroke-width="0.18">600</text>
<text x="273" y="303.15" font-size="4.9" fill="#2a2a2a" text-anchor="middle" stroke="#2a2a2a" stroke-width="0.18">650</text>
<text x="256.25" y="289.55" font-size="4.9" fill="#2a2a2a" text-anchor="middle" stroke="#2a2a2a" stroke-width="0.18">700</text>
<text x="244.1" y="271.05" font-size="4.9" fill="#2a2a2a" text-anchor="middle" stroke="#2a2a2a" stroke-width="0.18">750</text>
<text x="238.6" y="247.05" font-size="4.9" fill="#2a2a2a" text-anchor="middle" stroke="#2a2a2a" stroke-width="0.18">800</text>
<text x="240.3" y="225.85" font-size="4.9" fill="#2a2a2a" text-anchor="middle" stroke="#2a2a2a" stroke-width="0.18">850</text>
<text x="249.5" y="202.65" font-size="4.9" fill="#2a2a2a" text-anchor="middle" stroke="#2a2a2a" stroke-width="0.18">900</text>
<text x="263.8" y="186.65" font-size="4.9" fill="#2a2a2a" text-anchor="middle" stroke="#2a2a2a" stroke-width="0.18">950</text>
<text x="287.1" y="176.45" font-size="4.9" fill="#2a2a2a" text-anchor="middle" stroke="#2a2a2a" stroke-width="0.18">1000</text>
<text x="307.8" y="181.6" font-size="4.4" fill="#555" text-anchor="end">100%</text>
<text x="307.8" y="190.17" font-size="4.4" fill="#555" text-anchor="end">80%</text>
<text x="307.8" y="198.74" font-size="4.4" fill="#555" text-anchor="end">60%</text>
<text x="307.8" y="207.31" font-size="4.4" fill="#555" text-anchor="end">40%</text>
<text x="307.8" y="215.89" font-size="4.4" fill="#555" text-anchor="end">20%</text>
<text x="307.8" y="224.46" font-size="4.4" fill="#555" text-anchor="end">0%</text>
<text x="307.8" y="233.03" font-size="4.4" fill="#555" text-anchor="end">-20%</text>
<text x="307.8" y="241.6" font-size="4.4" fill="#555" text-anchor="end">-40%</text>
<polygon points="308,235.1 312.74,226.29 319.06,225.9 328.09,226.97 334.27,233.45 334.31,242.28 338.86,253.64 334.85,264.82 326.47,274.22 314.63,279.85 300.89,282.71 286.39,280.03 273.64,271.73 264.04,259.38 259.17,244.15 259.43,227.8 265.47,212.32 276.25,199.3 291.28,191.39" fill="none" stroke="#33ad6e" stroke-width="0.85"/>
<circle cx="308" cy="235.1" r="1.2" fill="#17744a"/>
<circle cx="312.74" cy="226.29" r="1.2" fill="#17744a"/>
<circle cx="319.06" cy="225.9" r="1.2" fill="#17744a"/>
<circle cx="328.09" cy="226.97" r="1.2" fill="#17744a"/>
<circle cx="334.27" cy="233.45" r="1.2" fill="#17744a"/>
<circle cx="334.31" cy="242.28" r="1.2" fill="#17744a"/>
<circle cx="338.86" cy="253.64" r="1.2" fill="#17744a"/>
<circle cx="334.85" cy="264.82" r="1.2" fill="#17744a"/>
<circle cx="326.47" cy="274.22" r="1.2" fill="#17744a"/>
<circle cx="314.63" cy="279.85" r="1.2" fill="#17744a"/>
<circle cx="300.89" cy="282.71" r="1.2" fill="#17744a"/>
<circle cx="286.39" cy="280.03" r="1.2" fill="#17744a"/>
<circle cx="273.64" cy="271.73" r="1.2" fill="#17744a"/>
<circle cx="264.04" cy="259.38" r="1.2" fill="#17744a"/>
<circle cx="259.17" cy="244.15" r="1.2" fill="#17744a"/>
<circle cx="259.43" cy="227.8" r="1.2" fill="#17744a"/>
<circle cx="265.47" cy="212.32" r="1.2" fill="#17744a"/>
<circle cx="276.25" cy="199.3" r="1.2" fill="#17744a"/>
<circle cx="291.28" cy="191.39" r="1.2" fill="#17744a"/>
<polygon points="308,210.1 317.29,213.05 326.92,215.79 335.54,222.11 341.83,231.53 344.38,243.11 343.9,255.85 335.22,265.16 326.23,273.78 313.88,275.31 301.55,278.77 289.58,274.14 277.84,267.87 273.84,255.08 266.44,243.54 269.22,230.28 270.75,215.76 281.16,205.61 294.75,201.51" fill="none" stroke="#3c88dc" stroke-width="0.85"/>
<circle cx="308" cy="210.1" r="1.2" fill="#1b4f95"/>
<circle cx="317.29" cy="213.05" r="1.2" fill="#1b4f95"/>
<circle cx="326.92" cy="215.79" r="1.2" fill="#1b4f95"/>
<circle cx="335.54" cy="222.11" r="1.2" fill="#1b4f95"/>
<circle cx="341.83" cy="231.53" r="1.2" fill="#1b4f95"/>
<circle cx="344.38" cy="243.11" r="1.2" fill="#1b4f95"/>
<circle cx="343.9" cy="255.85" r="1.2" fill="#1b4f95"/>
<circle cx="335.22" cy="265.16" r="1.2" fill="#1b4f95"/>
<circle cx="326.23" cy="273.78" r="1.2" fill="#1b4f95"/>
<circle cx="313.88" cy="275.31" r="1.2" fill="#1b4f95"/>
<circle cx="301.55" cy="278.77" r="1.2" fill="#1b4f95"/>
<circle cx="289.58" cy="274.14" r="1.2" fill="#1b4f95"/>
<circle cx="277.84" cy="267.87" r="1.2" fill="#1b4f95"/>
<circle cx="273.84" cy="255.08" r="1.2" fill="#1b4f95"/>
<circle cx="266.44" cy="243.54" r="1.2" fill="#1b4f95"/>
<circle cx="269.22" cy="230.28" r="1.2" fill="#1b4f95"/>
<circle cx="270.75" cy="215.76" r="1.2" fill="#1b4f95"/>
<circle cx="281.16" cy="205.61" r="1.2" fill="#1b4f95"/>
<circle cx="294.75" cy="201.51" r="1.2" fill="#1b4f95"/>
<polygon points="308,228.1 312.22,227.8 317.34,228.11 321.9,231.02 325.45,235.68 327.73,241.74 328.15,248.94 325.44,256.15 320.57,263.32 312.64,267.92 303.08,269.59 292.91,267.98 283.06,263.06 274.94,254.6 270.93,243.17 270.97,230.72 275.27,218.71 283.43,208.53 294.75,201.51" fill="none" stroke="#e44755" stroke-width="0.85"/>
<circle cx="308" cy="228.1" r="1.2" fill="#b81e36"/>
<circle cx="312.22" cy="227.8" r="1.2" fill="#b81e36"/>
<circle cx="317.34" cy="228.11" r="1.2" fill="#b81e36"/>
<circle cx="321.9" cy="231.02" r="1.2" fill="#b81e36"/>
<circle cx="325.45" cy="235.68" r="1.2" fill="#b81e36"/>
<circle cx="327.73" cy="241.74" r="1.2" fill="#b81e36"/>
<circle cx="328.15" cy="248.94" r="1.2" fill="#b81e36"/>
<circle cx="325.44" cy="256.15" r="1.2" fill="#b81e36"/>
<circle cx="320.57" cy="263.32" r="1.2" fill="#b81e36"/>
<circle cx="312.64" cy="267.92" r="1.2" fill="#b81e36"/>
<circle cx="303.08" cy="269.59" r="1.2" fill="#b81e36"/>
<circle cx="292.91" cy="267.98" r="1.2" fill="#b81e36"/>
<circle cx="283.06" cy="263.06" r="1.2" fill="#b81e36"/>
<circle cx="274.94" cy="254.6" r="1.2" fill="#b81e36"/>
<circle cx="270.93" cy="243.17" r="1.2" fill="#b81e36"/>
<circle cx="270.97" cy="230.72" r="1.2" fill="#b81e36"/>
<circle cx="275.27" cy="218.71" r="1.2" fill="#b81e36"/>
<circle cx="283.43" cy="208.53" r="1.2" fill="#b81e36"/>
<circle cx="294.75" cy="201.51" r="1.2" fill="#b81e36"/>
<circle cx="308.0" cy="240.1" r="1.1" fill="#000"/>
<rect x="269.9" y="313.1" width="79.6" height="6.9" fill="#fff" stroke="#bbb" stroke-width="0.5"/>
<line x1="270.7" y1="316.8" x2="281.1" y2="316.8" stroke="#e44755" stroke-width="0.8"/>
<circle cx="275.9" cy="316.8" r="1.2" fill="#b81e36"/>
<text x="282.7" y="318.8" font-size="5.1" fill="#111" stroke="#111" textLength="5" lengthAdjust="spacingAndGlyphs" class="bt">DS</text>
<line x1="288" y1="316.8" x2="299.2" y2="316.8" stroke="#3c88dc" stroke-width="0.8"/>
<circle cx="293.6" cy="316.8" r="1.2" fill="#1b4f95"/>
<text x="300.7" y="318.8" font-size="5.1" fill="#111" stroke="#111" textLength="19" lengthAdjust="spacingAndGlyphs" class="bt">BPNN-DS</text>
<line x1="321" y1="316.8" x2="332" y2="316.8" stroke="#33ad6e" stroke-width="0.8"/>
<circle cx="326.5" cy="316.8" r="1.2" fill="#17744a"/>
<text x="333.2" y="318.8" font-size="5.1" fill="#111" stroke="#111" textLength="15.4" lengthAdjust="spacingAndGlyphs" class="bt">PCA-DS</text>
</svg>
</body></html>
